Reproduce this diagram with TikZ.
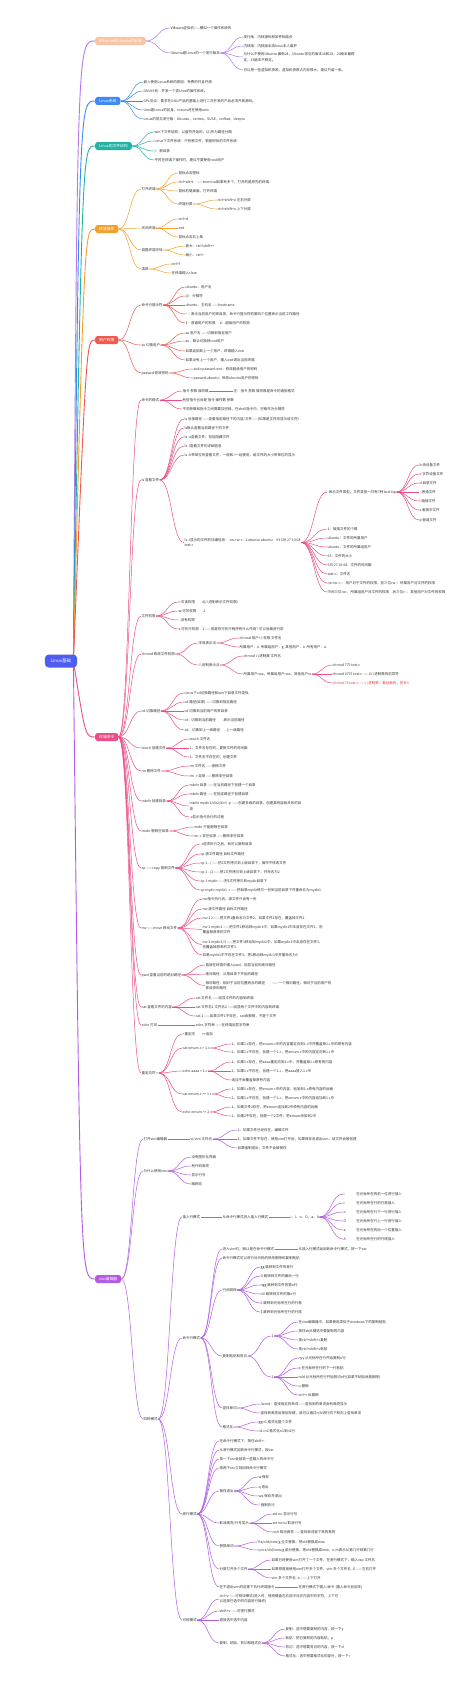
\documentclass[tikz,border=0pt]{standalone}
\usepackage{fontspec}
\setmainfont{Noto Sans CJK SC}
\usetikzlibrary{calc,backgrounds}

\definecolor{rootc}{HTML}{4D5CF1}
\definecolor{vmc}{HTML}{F8C4A4}
\definecolor{vml}{HTML}{B977E8}
\definecolor{sysc}{HTML}{3D8BF2}
\definecolor{fsc}{HTML}{22B3A5}
\definecolor{termc}{HTML}{F5A02C}
\definecolor{usrc}{HTML}{EE5A4E}
\definecolor{cmdc}{HTML}{EC4D89}
\definecolor{vimc}{HTML}{B25CE3}
\definecolor{txtc}{HTML}{333333}
\definecolor{warnc}{HTML}{E33B3B}

\tikzset{
  tx/.style={anchor=west, inner sep=0.4pt, text=txtc, font=\fontsize{3.5}{5.5}\selectfont},
  head/.style={anchor=west, fill=#1, text=white, rounded corners=2.5pt, inner xsep=4pt, inner ysep=0pt, minimum height=8pt, font=\fontsize{3.8}{4.5}\selectfont},
  ln/.style={draw=#1, line width=0.5pt},
}
\newcommand\lnk[3]{\draw[ln=#1] let \p1=(#2.east), \p2=(#3.west), \p3=($(\p1)!0.5!(\p2)$) in (\p1) .. controls (\x3,\y1) and (\x3,\y2) .. (\p2);}
\newcommand\rlnk[3]{\draw[draw=#1, line width=0.9pt] let \p1=(root.east), \p2=(#2.west) in ({\x1-4pt},\y1) .. controls ({\x1+#3},\y2) and ({\x1+#3},\y2) .. (\p2);}

\begin{document}
\begin{tikzpicture}[x=1pt,y=-1pt]
\useasboundingbox (0,0) rectangle (474,1691);

\node[head=rootc, anchor=center, minimum height=13pt, inner xsep=6pt, rounded corners=4pt, font=\fontsize{4.5}{5}\selectfont] (root) at (61,661) {Linux基础};

\node[head=vmc] (vmw) at (95,41) {VMware和Ubuntu的安装};
\node[head=sysc] (sys) at (95,101) {Linux系统};
\node[head=fsc] (fs) at (95,146) {Linux的文件结构};
\node[head=termc] (term) at (95,229) {终端操作};
\node[head=usrc] (usr) at (95,340) {用户权限};
\node[head=cmdc] (cmd) at (95,737) {终端命令};
\node[head=vimc] (vimh) at (95,1279) {vim编辑器};

% VMware
\node[tx] (vm1) at (170,28) {VMware虚拟机——模拟一个操作系统的};
\node[tx] (vm2) at (170,53) {Ubuntu是Linux的一个发行版本};
\node[tx] (vm21) at (243,37) {发行版：内核源码和软件相结合};
\node[tx] (vm22) at (243,46) {内核版：内核版本由linux本人维护};
\node[tx, align=left] (vm23) at (243,57) {为什么不使用Ubuntu 最新24，Ubuntu常见的版本16和18，20版本最稳\\定，23版本不稳定。};
\node[tx] (vm24) at (243,70) {可以把一些虚拟机快照，虚拟机快照占内存很大，建议只留一张。};

% Linux系统
\node[tx] (sys1) at (143,82) {嵌入使用Linux系统的原因：免费的并且开源};
\node[tx] (sys2) at (143,91) {GNU计划：开发一个类Unix的操作系统。};
\node[tx] (sys3) at (143,101) {GPL协议：要求在GNU产品的基础上进行二次开发的产品必须开放源码。};
\node[tx] (sys4) at (143,110) {Unix是Linux的前身，macos还在使用unix};
\node[tx] (sys5) at (143,119) {Linux的常见发行版：Ubuntu，centos，SUSE，redhat，deepin};

% 文件结构
\node[tx] (fs1) at (154,132) {win下文件结构：以盘符开始的，以\textbackslash 作为路径分隔};
\node[tx] (fs2) at (154,141) {Linux下文件系统：只有根文件，根是树状的文件系统};
\node[tx] (fs3) at (154,151) {/：根目录};
\node[tx] (fs4) at (154,160) {平时在终端下操作时，建议不要使用root用户};

% 终端操作
\node[tx] (t1) at (141,189) {打开终端};
\node[tx] (t11) at (178,173) {鼠标点击图标};
\node[tx] (t12) at (178,182) {ctrl+alt+t\quad ——terminal如果有多个，打开的是原先的终端};
\node[tx] (t13) at (178,191) {鼠标右键桌面，打开终端};
\node[tx] (t14) at (178,204) {终端分屏};
\node[tx] (t141) at (217,200) {ctrl+shift+e 左右分屏};
\node[tx] (t142) at (217,209) {ctrl+shift+o 上下分屏};
\node[tx] (t2) at (141,228) {关闭终端};
\node[tx] (t21) at (178,219) {ctrl+d};
\node[tx] (t22) at (178,228) {exit};
\node[tx] (t23) at (178,237) {鼠标点击右上角};
\node[tx] (t3) at (141,250) {调整终端字体};
\node[tx] (t31) at (185,246) {放大：ctrl+shift++};
\node[tx] (t32) at (185,255) {缩小：ctrl+-};
\node[tx] (t4) at (141,269) {清屏};
\node[tx] (t41) at (171,264) {ctrl+l};
\node[tx] (t42) at (171,273) {在终端输入clear};

% 用户权限
\node[tx] (u1) at (141,305) {命令行提示符};
\node[tx] (u11) at (185,287) {ubuntu：用户名};
\node[tx] (u12) at (185,296) {@：分隔符};
\node[tx] (u13) at (185,305) {ubuntu：主机名 ——hostname};
\node[tx] (u14) at (185,314) {\textasciitilde：表示当前用户的家目录，命令行提示符的第四个位置表示当前工作路径};
\node[tx] (u15) at (185,323) {\$：普通用户的权限\quad\ \#：超级用户的权限};
\node[tx] (u2) at (141,345) {su 切换用户};
\node[tx] (u21) at (185,333) {su 用户名 ——切换到指定用户};
\node[tx] (u22) at (185,341) {su，默认切换到root用户};
\node[tx] (u23) at (185,351) {如果返回到上一个用户，终端输入exit};
\node[tx] (u24) at (185,360) {如果没有上一个用户，输入exit退出当前终端};
\node[tx] (u3) at (141,373) {passwd 修改密码};
\node[tx] (u31) at (193,369) {sudo passwd root：修改超级用户的密码};
\node[tx] (u32) at (193,378) {passwd ubuntu：修改ubuntu用户的密码};

% 终端命令
\node[tx] (fmt) at (141,400) {命令的格式};
\node[tx] (fmt1) at (182,391) {指令 参数 操作数};
\node[tx] (fmt11) at (233,391) {注：指令 参数 操作数是命令的通用格式};
\node[tx] (fmt2) at (182,400) {有些指令也会是 指令 操作数 参数};
\node[tx] (fmt3) at (182,409) {不同参数和指令之间需要加空格，在shell指令中，空格作为分隔符};

\node[tx] (ls) at (141,480) {ls 查看文件};
\node[tx] (ls1) at (184,419) {ls 后接路径\ ——查看指定路径下的内容/文件——(如果是文件则显示该文件)};
\node[tx] (ls2) at (184,428) {ls默认查看当前路径下的文件};
\node[tx] (ls3) at (184,437) {ls -a查看文件，包括隐藏文件};
\node[tx] (ls4) at (184,446) {ls -l查看文件的详细信息};
\node[tx] (ls5) at (184,455) {ls -h带单位的查看文件，一般和-l一起使用，给文件的大小带单位的显示};
\node[tx, align=left] (ls6) at (184,542.5) {ls -l显示的文件的详细信息：-rw-rw-r-{}- 1 ubuntu ubuntu\quad 93 5月 27 10:08\\test.c};
\node[tx] (lsa) at (327,492) {-表示文件类型，文件类型一共有7种 bcd-lsp};
\node[tx] (lt1) at (419,465) {b:块设备文件};
\node[tx] (lt2) at (419,474) {c:字符设备文件};
\node[tx] (lt3) at (419,483) {d:目录文件};
\node[tx] (lt4) at (419,492) {-:普通文件};
\node[tx] (lt5) at (419,501) {l:链接文件};
\node[tx] (lt6) at (419,510) {s:套接字文件};
\node[tx] (lt7) at (419,520) {p:管道文件};
\node[tx] (lsb) at (327,529) {1：链接文件的个数};
\node[tx] (lsc) at (327,538) {ubuntu：文件的所属用户};
\node[tx] (lsd) at (327,547) {ubuntu：文件的所属组用户};
\node[tx] (lse) at (327,556) {93：文件的大小};
\node[tx] (lsf) at (327,565) {5月 27 10:08：文件的时间戳};
\node[tx] (lsg) at (327,574) {test.c：文件名};
\node[tx] (lsh) at (327,583) {rw-rw-r-{}-：用户对于文件的权限，前三位rw-：所属用户对文件的权限};
\node[tx] (lsi) at (327,592) {中间三位rw-：所属组用户对文件的权限\quad 后三位r-{}-：其他用户对文件的权限};

\node[tx] (prm) at (141,616) {文件权限};
\node[tx] (prm1) at (178,602) {r:可读权限\quad\quad 4(八进制表示文件权限)};
\node[tx] (prm2) at (178,611) {w:可写权限\quad\quad 2};
\node[tx] (prm3) at (178,620) {-:没有权限};
\node[tx] (prm4) at (178,629) {x:可执行权限\quad 1 ——但是你可执行程序有什么作用? 可以后面进行说};

\node[tx] (chm) at (141,654) {chmod 修改文件权限};
\node[tx] (chm1) at (198,643) {字母表示法};
\node[tx] (chm11) at (239,638) {chmod 用户+/-权限 文件名};
\node[tx] (chm12) at (239,647) {所属用户：u\ \ 所属组用户：g\ \ 其他用户：o\ \ 所有用户：a};
\node[tx] (chm2) at (198,665) {八进制表示法};
\node[tx] (chm21) at (243,656) {chmod 八进制数 文件名};
\node[tx] (chm22) at (243,674) {所属用户rwx，所属组用户rwx，其他用户rx};
\node[tx] (chm221) at (332,665) {chmod 775 test.c};
\node[tx] (chm222) at (332,674) {chmod 0775 test.c\ ——0八进制数的前导符};
\node[tx, text=warnc] (chm223) at (332,683) {chmod 75 test.c\ ——八进制数，看后面的，前补0};

\node[tx] (cd) at (141,711) {cd 切换路径};
\node[tx] (cd1) at (184,693) {Linux下cd切换路径和win下目录文件类似};
\node[tx] (cd2) at (184,702) {cd 路径(目录)\ ——切换到指定路径};
\node[tx] (cd3) at (184,711) {cd 切换到当前用户的家目录};
\node[tx] (cd4) at (184,720) {cd . 切换到当前路径\quad\quad .表示当前路径};
\node[tx] (cd5) at (184,730) {cd .. 切换到上一级路径\quad\ ..上一级路径};

\node[tx] (tch) at (141,748) {touch 创建文件};
\node[tx] (tch1) at (189,739) {touch 文件名};
\node[tx] (tch2) at (189,748) {1、文件名存在的，更新文件的时间戳};
\node[tx] (tch3) at (189,757) {2、文件名不存在的，创建文件};

\node[tx] (rm) at (141,771) {rm 删除文件};
\node[tx] (rm1) at (189,766) {rm 文件名\ ——删除文件};
\node[tx] (rm2) at (189,776) {rm -r 目录\ ——删除非空目录};

\node[tx] (mkd) at (141,801) {mkdir 创建目录};
\node[tx] (mkd1) at (189,785) {mkdir 目录\ ——在当前路径下创建一个目录};
\node[tx] (mkd2) at (189,794) {mkdir 路径\ ——在指定路径下创建目录};
\node[tx, align=left] (mkd3) at (189,806) {mkdir mydir1/dir2/dir3 -p\ \ ——创建多级的目录，创建具有层级关系的目\\录};
\node[tx] (mkd4) at (189,817) {-v显示指令执行的过程};

\node[tx] (rmd) at (141,831) {rmdir 删除空目录};
\node[tx] (rmd1) at (193,827) {rmdir 只能删除空目录};
\node[tx] (rmd2) at (193,836) {rm -r 非空目录\ ——删除非空目录};

\node[tx] (cpy) at (141,868) {cp ——copy 复制文件};
\node[tx] (cpy1) at (200,844) {-r选项执行之后，就可以复制目录};
\node[tx] (cpy2) at (200,854) {cp 源文件路径 目标文件路径};
\node[tx] (cpy3) at (200,863) {cp 1 ../\ ——把1文件拷贝到上级目录下，操作不修改文件};
\node[tx] (cpy4) at (200,872) {cp 1 ../2\ ——把1文件拷贝到上级目录下，并命名为2};
\node[tx] (cpy5) at (200,881) {cp 1 mydir\ ——把1文件拷贝到mydir目录下};
\node[tx] (cpy6) at (200,890) {cp mydir mydir1 -r\ ——把目录mydir拷贝一份到当前目录下并重命名为mydir1};

\node[tx] (mv) at (141,928) {mv ——move 移动文件};
\node[tx] (mv1) at (202,899) {mv指令执行后，源文件只会有一份};
\node[tx] (mv2) at (202,909) {mv 源文件路径 目标文件路径};
\node[tx] (mv3) at (202,918) {mv 1 2\ ——把文件1重命名为文件2，如果文件2存在，覆盖掉文件2};
\node[tx, align=left] (mv4) at (202,929.5) {mv 1 mydir1\ ——把文件1移动到mydir1中，如果mydir1中本身存在文件1，则\\覆盖掉原来的文件};
\node[tx, align=left] (mv5) at (202,944.5) {mv 1 mydir1/3\ ——把文件1移动到mydir1中，如果mydir1中本身存在文件3，\\则覆盖掉原来的文件3};
\node[tx] (mv6) at (202,955) {如果mydir1中不存在文件3，把1移动到mydir1中并重命名为3};

\node[tx] (pwd) at (141,975) {pwd 查看当前的绝对路径};
\node[tx] (pwd1) at (205,965) {直接在终端中输入pwd，回显当前的绝对路径};
\node[tx] (pwd2) at (205,974) {绝对路径：从根目录下开始的路径};
\node[tx, align=left] (pwd3) at (205,985.5) {相对路径：相对于当前位置而言的路径\quad\quad —— 一个相对路径，相对于当前用户的\\家目录的路径};

\node[tx] (cat) at (141,1007) {cat 查看文件的内容};
\node[tx] (cat1) at (195,998) {cat 文件名\ ——回显文件的内容到终端};
\node[tx] (cat2) at (195,1007) {cat 文件名1 文件名2\ ——回显两个文件中的内容到终端};
\node[tx] (cat3) at (195,1016) {cat 1\ ——如果文件1不存在，cat会报错，不是个文件};

\node[tx] (ech) at (141,1025) {echo 打印};
\node[tx] (ech1) at (195,1025) {echo 字符串\ ——在终端回显字符串};

\node[tx] (rdr) at (141,1073) {重定向符 >};
\node[tx] (rdr1) at (182,1034) {>重定向\quad\quad >{}>追加};
\node[tx] (rdr2) at (182,1048) {cat emum.c > 1.c};
\node[tx] (rdr21) at (231,1044) {1、如果1.c存在，把emum.c中的内容重定向到1.c中并覆盖掉1.c中的原有内容};
\node[tx] (rdr22) at (231,1052) {2、如果1.c不存在，创建一个1.c，把emum.c中的内容定向到1.c中};
\node[tx] (rdr3) at (182,1071) {echo aaaa > 1.c};
\node[tx] (rdr31) at (231,1062) {1、如果1.c存在，把aaaa重定向到1.c中，并覆盖掉1.c原有的内容};
\node[tx] (rdr32) at (231,1071) {2、如果1.c不存在，创建一个1.c，把aaaa放入1.c中};
\node[tx] (rdr33) at (231,1080) {追加不会覆盖掉原有内容};
\node[tx] (rdr4) at (182,1094) {cat emum.c >{}> 1.c};
\node[tx] (rdr41) at (231,1089) {1、如果1.c存在，把emum.c中的内容，追加到1.c原有内容的后面};
\node[tx] (rdr42) at (231,1098) {2、如果1.c不存在，创建一个1.c，把emum.c中的内容追加到1.c中};
\node[tx] (rdr5) at (182,1112) {echo emum >{}> 2};
\node[tx] (rdr51) at (231,1107) {1、如果文件2存在，把emum追加到2中原有内容的后面};
\node[tx] (rdr52) at (231,1116) {2、如果2不存在，创建一个2文件，把emum添加到2中};

% vim编辑器
\node[tx] (vo) at (143,1139) {打开vim编辑器};
\node[tx] (vo1) at (190,1139) {vi/vim 文件名};
\node[tx] (vo11) at (237,1130) {1、如果文件已经存在，编辑文件};
\node[tx] (vo12) at (237,1139) {2、如果文件不存在，使用vim打开后，如果保存后退出vim，该文件会被创建};
\node[tx] (vo13) at (237,1148) {如果强制退出，文件不会被保存};
\node[tx] (vw) at (143,1171) {为什么使用vim};
\node[tx] (vw1) at (191,1157) {没有图形化界面};
\node[tx] (vw2) at (191,1166) {有代码高亮};
\node[tx] (vw3) at (191,1175) {显示行号};
\node[tx] (vw4) at (191,1184) {跟踪宏};
\node[tx] (modes) at (143,1419) {四种模式};

\node[tx] (ins) at (182,1217) {插入行模式};
\node[tx] (ins1) at (222,1217) {从命令行模式进入插入行模式};
\node[tx] (ins2) at (290,1217) {i、I、o、O、a、A};
\node[tx] (ia) at (343,1194) {\makebox[12.7pt][l]{i}在光标所在的前一位进行插入};
\node[tx] (ib) at (343,1203) {\makebox[12.7pt][l]{I}在光标所在行的行首插入};
\node[tx] (ic) at (343,1212) {\makebox[12.7pt][l]{o}在光标所在行下一行进行插入};
\node[tx] (id) at (343,1221) {\makebox[12.7pt][l]{O}在光标所在行上一行进行插入};
\node[tx] (ie) at (343,1230) {\makebox[12.7pt][l]{a}在光标所在的后一个位置插入};
\node[tx] (if) at (343,1239) {\makebox[12.7pt][l]{A}在光标所在行的行尾插入};

\node[tx] (nor) at (182,1338) {命令行模式};
\node[tx] (nor1) at (222,1249) {进入vim时，默认是在命令行模式};
\node[tx] (nor11) at (298,1249) {从插入行模式返回到命令行模式，按一下esc};
\node[tx] (nor2) at (222,1258) {命令行模式可以进行对代码的修改删除和复制粘贴};
\node[tx] (nor3) at (222,1290) {行间跳转};
\node[tx] (nj1) at (260,1267) {gg 跳转到文件的首行};
\node[tx] (nj2) at (260,1276) {G 跳转到文件的最后一行};
\node[tx] (nj3) at (260,1285) {ngg 跳转到文件的第n行};
\node[tx] (nj4) at (260,1294) {nG 跳转到文件的第n行};
\node[tx] (nj5) at (260,1303) {0 跳转到光标所在行的行首};
\node[tx] (nj6) at (260,1312) {\$ 跳转到光标所在行的行尾};
\node[tx] (nor4) at (222,1356) {复制粘贴和剪切};
\node[tx] (nor41) at (271,1336) {1};
\node[tx] (na1) at (298,1322) {在vim编辑器中，如果使用类似于windows下的复制粘贴};
\node[tx] (na2) at (298,1331) {按住shift键选中要复制的内容};
\node[tx] (na3) at (298,1340) {按ctrl+shift+c复制};
\node[tx] (na4) at (298,1349) {按ctrl+shift+v粘贴};
\node[tx] (nor42) at (271,1377) {2};
\node[tx] (nb1) at (298,1358) {nyy 从光标所在行开始复制n行};
\node[tx] (nb2) at (298,1368) {p 在光标所在行的下一行粘贴};
\node[tx] (nb3) at (298,1377) {ndd 从光标所在行开始剪切n行(如果不粘贴就是删除)};
\node[tx] (nb4) at (298,1386) {u 撤销};
\node[tx] (nb5) at (298,1395) {ctrl+r 反撤销};
\node[tx] (nor5) at (222,1408) {查找单词};
\node[tx] (nf1) at (260,1404) {/word：查找指定的单词\ ——查找到的单词会有高亮显示};
\node[tx] (nf2) at (260,1413) {查找到高亮后按回车键，就可以通过n/N进行向下和向上查找单词};
\node[tx] (nor6) at (222,1427) {格式化};
\node[tx] (ng1) at (258,1422) {gg=G 格式化整个文件};
\node[tx] (ng2) at (258,1431) {n1=n2 格式化n1到n2行};

\node[tx] (bot) at (182,1514) {底行模式};
\node[tx] (bot1) at (219,1441) {在命令行模式下，按住shift+:};
\node[tx] (bot2) at (219,1450) {从底行模式回到命令行模式，按esc};
\node[tx] (bot3) at (219,1459) {按一下esc会回退一些输入的命令行};
\node[tx] (bot4) at (219,1468) {按两下esc立刻回到命令行模式};
\node[tx] (bot5) at (219,1491) {保存退出};
\node[tx] (bs1) at (258,1477) {w 保存};
\node[tx] (bs2) at (258,1487) {q 退出};
\node[tx] (bs3) at (258,1496) {wq 保存并退出};
\node[tx] (bs4) at (258,1505) {! 强制执行};
\node[tx] (bot6) at (219,1523) {取消高亮/行号显示};
\node[tx] (bh1) at (272,1514) {set nu 显示行号};
\node[tx] (bh2) at (272,1523) {set nonu 取消行号};
\node[tx] (bh3) at (272,1532) {noh 取消高亮\ ——查找单词留下来的高亮};
\node[tx] (bot7) at (219,1546) {替换单词};
\node[tx] (br1) at (257,1542) {\%s/old/new/g 全文替换，把old替换成new};
\node[tx] (br2) at (257,1550) {n,m s/old/new/g 部分替换，把old替换成new，n,m表示从第几行到第几行};
\node[tx] (bot8) at (219,1569) {分屏打开多个文件};
\node[tx] (bp1) at (271,1560) {如果已经使用vim打开了一个文件，在底行模式下，输入vsp 文件名};
\node[tx] (bp2) at (271,1569) {如果想直接使用vim打开多个文件，vim 多个文件名 -O\ ——左右打开};
\node[tx] (bp3) at (271,1578) {vim 多个文件名 -o\ ——上下打开};
\node[tx] (bot9) at (219,1587) {在不退出vim的前提下执行终端指令};
\node[tx] (bot91) at (298,1587) {在底行模式下输入!命令 (输入命令后回车)};

\node[tx] (vis) at (182,1620) {可视模式};
\node[tx, align=left] (vis1) at (219,1599) {ctrl+v\ ——可视块模式(进入时，使用键盘左右选中对应内容中的字符，上下可\\以选择已选中的内容进行操作)};
\node[tx] (vis2) at (219,1611) {shift+v\ ——可视行模式};
\node[tx] (vis3) at (219,1620) {直接选中选中内容};
\node[tx] (vis4) at (219,1643) {复制、粘贴、剪切和格式化};
\node[tx] (vc1) at (285,1629) {复制：选中想要复制的内容，按一下y};
\node[tx] (vc2) at (285,1638) {粘贴：把已复制的内容粘贴，p};
\node[tx] (vc3) at (285,1647) {剪切：选中想要剪切的内容，按一下d};
\node[tx] (vc4) at (285,1656) {格式化：选中想要格式化的部分，按一下=};

\begin{pgfonlayer}{background}
\fill[white] (0,0) rectangle (474,1691);
\rlnk{vml}{vmw}{0pt}
\rlnk{sysc}{sys}{2pt}
\rlnk{fsc}{fs}{5pt}
\rlnk{termc}{term}{7pt}
\rlnk{usrc}{usr}{9pt}
\rlnk{cmdc}{cmd}{8pt}
\rlnk{vimc}{vimh}{3pt}

\foreach \c in {vm1,vm2} {\lnk{vml}{vmw}{\c}}
\foreach \c in {vm21,vm22,vm23,vm24} {\lnk{vml}{vm2}{\c}}

\foreach \c in {sys1,sys2,sys3,sys4,sys5} {\lnk{sysc}{sys}{\c}}
\foreach \c in {fs1,fs2,fs3,fs4} {\lnk{fsc}{fs}{\c}}

\foreach \c in {t1,t2,t3,t4} {\lnk{termc}{term}{\c}}
\foreach \c in {t11,t12,t13,t14} {\lnk{termc}{t1}{\c}}
\foreach \c in {t141,t142} {\lnk{termc}{t14}{\c}}
\foreach \c in {t21,t22,t23} {\lnk{termc}{t2}{\c}}
\foreach \c in {t31,t32} {\lnk{termc}{t3}{\c}}
\foreach \c in {t41,t42} {\lnk{termc}{t4}{\c}}

\foreach \c in {u1,u2,u3} {\lnk{usrc}{usr}{\c}}
\foreach \c in {u11,u12,u13,u14,u15} {\lnk{usrc}{u1}{\c}}
\foreach \c in {u21,u22,u23,u24} {\lnk{usrc}{u2}{\c}}
\foreach \c in {u31,u32} {\lnk{usrc}{u3}{\c}}

\foreach \c in {fmt,ls,prm,chm,cd,tch,rm,mkd,rmd,cpy,mv,pwd,cat,ech,rdr} {\lnk{cmdc}{cmd}{\c}}
\foreach \c in {fmt1,fmt2,fmt3} {\lnk{cmdc}{fmt}{\c}}
\lnk{cmdc}{fmt1}{fmt11}
\foreach \c in {ls1,ls2,ls3,ls4,ls5,ls6} {\lnk{cmdc}{ls}{\c}}
\foreach \c in {lsa,lsb,lsc,lsd,lse,lsf,lsg,lsh,lsi} {\lnk{cmdc}{ls6}{\c}}
\foreach \c in {lt1,lt2,lt3,lt4,lt5,lt6,lt7} {\lnk{cmdc}{lsa}{\c}}
\foreach \c in {prm1,prm2,prm3,prm4} {\lnk{cmdc}{prm}{\c}}
\foreach \c in {chm1,chm2} {\lnk{cmdc}{chm}{\c}}
\foreach \c in {chm11,chm12} {\lnk{cmdc}{chm1}{\c}}
\foreach \c in {chm21,chm22} {\lnk{cmdc}{chm2}{\c}}
\foreach \c in {chm221,chm222,chm223} {\lnk{cmdc}{chm22}{\c}}
\foreach \c in {cd1,cd2,cd3,cd4,cd5} {\lnk{cmdc}{cd}{\c}}
\foreach \c in {tch1,tch2,tch3} {\lnk{cmdc}{tch}{\c}}
\foreach \c in {rm1,rm2} {\lnk{cmdc}{rm}{\c}}
\foreach \c in {mkd1,mkd2,mkd3,mkd4} {\lnk{cmdc}{mkd}{\c}}
\foreach \c in {rmd1,rmd2} {\lnk{cmdc}{rmd}{\c}}
\foreach \c in {cpy1,cpy2,cpy3,cpy4,cpy5,cpy6} {\lnk{cmdc}{cpy}{\c}}
\foreach \c in {mv1,mv2,mv3,mv4,mv5,mv6} {\lnk{cmdc}{mv}{\c}}
\foreach \c in {pwd1,pwd2,pwd3} {\lnk{cmdc}{pwd}{\c}}
\foreach \c in {cat1,cat2,cat3} {\lnk{cmdc}{cat}{\c}}
\lnk{cmdc}{ech}{ech1}
\foreach \c in {rdr1,rdr2,rdr3,rdr4,rdr5} {\lnk{cmdc}{rdr}{\c}}
\foreach \c in {rdr21,rdr22} {\lnk{cmdc}{rdr2}{\c}}
\foreach \c in {rdr31,rdr32,rdr33} {\lnk{cmdc}{rdr3}{\c}}
\foreach \c in {rdr41,rdr42} {\lnk{cmdc}{rdr4}{\c}}
\foreach \c in {rdr51,rdr52} {\lnk{cmdc}{rdr5}{\c}}

\foreach \c in {vo,vw,modes} {\lnk{vimc}{vimh}{\c}}
\lnk{vimc}{vo}{vo1}
\foreach \c in {vo11,vo12,vo13} {\lnk{vimc}{vo1}{\c}}
\foreach \c in {vw1,vw2,vw3,vw4} {\lnk{vimc}{vw}{\c}}
\foreach \c in {ins,nor,bot,vis} {\lnk{vimc}{modes}{\c}}
\lnk{vimc}{ins}{ins1}
\lnk{vimc}{ins1}{ins2}
\foreach \c in {ia,ib,ic,id,ie,if} {\lnk{vimc}{ins2}{\c}}
\foreach \c in {nor1,nor2,nor3,nor4,nor5,nor6} {\lnk{vimc}{nor}{\c}}
\lnk{vimc}{nor1}{nor11}
\foreach \c in {nj1,nj2,nj3,nj4,nj5,nj6} {\lnk{vimc}{nor3}{\c}}
\foreach \c in {nor41,nor42} {\lnk{vimc}{nor4}{\c}}
\foreach \c in {na1,na2,na3,na4} {\lnk{vimc}{nor41}{\c}}
\foreach \c in {nb1,nb2,nb3,nb4,nb5} {\lnk{vimc}{nor42}{\c}}
\foreach \c in {nf1,nf2} {\lnk{vimc}{nor5}{\c}}
\foreach \c in {ng1,ng2} {\lnk{vimc}{nor6}{\c}}
\foreach \c in {bot1,bot2,bot3,bot4,bot5,bot6,bot7,bot8,bot9} {\lnk{vimc}{bot}{\c}}
\foreach \c in {bs1,bs2,bs3,bs4} {\lnk{vimc}{bot5}{\c}}
\foreach \c in {bh1,bh2,bh3} {\lnk{vimc}{bot6}{\c}}
\foreach \c in {br1,br2} {\lnk{vimc}{bot7}{\c}}
\foreach \c in {bp1,bp2,bp3} {\lnk{vimc}{bot8}{\c}}
\lnk{vimc}{bot9}{bot91}
\foreach \c in {vis1,vis2,vis3,vis4} {\lnk{vimc}{vis}{\c}}
\foreach \c in {vc1,vc2,vc3,vc4} {\lnk{vimc}{vis4}{\c}}
\end{pgfonlayer}
\end{tikzpicture}
\end{document}
